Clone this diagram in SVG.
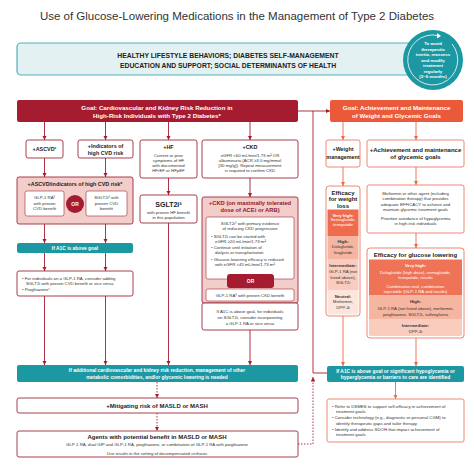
<svg xmlns="http://www.w3.org/2000/svg" width="474" height="465" viewBox="0 0 474 465">
<style>
text{font-family:"Liberation Sans",Arial,sans-serif;}
.ttl{font-size:11.5px;fill:#333;text-anchor:middle;}
.hb{font-size:6.8px;font-weight:bold;fill:#222;text-anchor:middle;}
.gw{font-size:6.2px;font-weight:bold;fill:#fff;text-anchor:middle;}
.bb{font-size:5.4px;font-weight:bold;fill:#222;text-anchor:middle;}
.bt{font-size:6px;font-weight:bold;fill:#222;text-anchor:middle;}
.sm{font-size:4.3px;fill:#333;text-anchor:middle;}
.sl{font-size:4.3px;fill:#333;}
.smw{font-size:4.3px;fill:#fff;text-anchor:middle;}
.sbw{font-size:4.4px;font-weight:bold;fill:#fff;text-anchor:middle;}
.sbd{font-size:4.4px;font-weight:bold;fill:#333;text-anchor:middle;}
.tw{font-size:4.9px;font-weight:bold;fill:#fff;text-anchor:middle;}
.wb{fill:#fff;stroke:#9e2a3a;stroke-width:0.9;}
.pk{fill:#f3cdca;stroke:#9e2a3a;stroke-width:0.9;}
.cb{fill:#fff;stroke:#ea7a60;stroke-width:0.9;}
.teal{fill:#1c98a3;}
.lr{stroke:#a51c30;stroke-width:0.9;fill:none;}
.lc{stroke:#ea6a4c;stroke-width:0.9;fill:none;}
.dt{stroke:#a51c30;stroke-width:0.9;fill:none;stroke-dasharray:1.5 1.5;}
</style>
<defs>
<marker id="ar" viewBox="0 0 6 6" refX="6" refY="3" markerWidth="4.5" markerHeight="4.5" markerUnits="userSpaceOnUse" orient="auto"><path d="M0,0 L6,3 L0,6 z" fill="#a51c30"/></marker>
<marker id="ac" viewBox="0 0 6 6" refX="6" refY="3" markerWidth="4.5" markerHeight="4.5" markerUnits="userSpaceOnUse" orient="auto"><path d="M0,0 L6,3 L0,6 z" fill="#ea6a4c"/></marker>
</defs>
<rect width="474" height="465" fill="#fff"/>
<text class="ttl" x="237" y="20">Use of Glucose-Lowering Medications in the Management of Type 2 Diabetes</text>

<g id="lifestyle">
<rect x="17" y="43" width="420" height="32" rx="4" fill="#e3f1f3" stroke="#4fb1ba" stroke-width="1.2"/>
<text class="hb" x="228" y="58">HEALTHY LIFESTYLE BEHAVIORS; DIABETES SELF-MANAGEMENT</text>
<text class="hb" x="228" y="67.5">EDUCATION AND SUPPORT; SOCIAL DETERMINANTS OF HEALTH</text>
</g>
<g id="reassess">
<circle cx="433" cy="60" r="30" fill="#1c98a3"/>
<path d="M452,44 A25,25 0 1 1 438,35.5" fill="none" stroke="#fff" stroke-width="0.8"/>
<path d="M437,33 L441,36 L437,38.5 z" fill="#fff"/>
<text class="sbw" x="433" y="45">To avoid</text>
<text class="sbw" x="433" y="50.5">therapeutic</text>
<text class="sbw" x="433" y="56">inertia, reassess</text>
<text class="sbw" x="433" y="61.5">and modify</text>
<text class="sbw" x="433" y="67">treatment</text>
<text class="sbw" x="433" y="72.5">regularly</text>
<text class="sbw" x="433" y="78">(3–6 months)</text>
</g>

<g id="goal-cv">
<rect x="17" y="100" width="281" height="22" rx="2" fill="#a51c30"/>
<text class="gw" x="157" y="109.5">Goal: Cardiovascular and Kidney Risk Reduction in</text>
<text class="gw" x="157" y="117.5">High-Risk Individuals with Type 2 Diabetes*</text>
</g>
<g id="goal-glyc">
<rect x="330" y="100" width="133" height="22" rx="2" fill="#ea5a3a"/>
<text class="gw" x="396.5" y="109.5">Goal: Achievement and Maintenance</text>
<text class="gw" x="396.5" y="117.5">of Weight and Glycemic Goals</text>
</g>

<g id="ascvd">
<rect class="wb" x="26" y="140" width="37" height="18" rx="2"/>
<text class="bb" x="44.5" y="151">+ASCVD²</text>
</g>
<g id="indicators">
<rect class="wb" x="78" y="140" width="55" height="18" rx="2"/>
<text class="bb" x="105.5" y="148">+Indicators of</text>
<text class="bb" x="105.5" y="154.5">high CVD risk</text>
</g>
<g id="hf">
<rect class="wb" x="140" y="140" width="57" height="38" rx="2"/>
<text class="bb" x="168.5" y="149">+HF</text>
<text class="sm" x="168.5" y="157">Current or prior</text>
<text class="sm" x="168.5" y="162">symptoms of HF</text>
<text class="sm" x="168.5" y="167">with documented</text>
<text class="sm" x="168.5" y="172">HFrEF or HFpEF</text>
</g>
<g id="ckd">
<rect class="wb" x="202" y="140" width="96" height="38" rx="2"/>
<text class="bb" x="250" y="149">+CKD</text>
<text class="sm" x="250" y="157">eGFR &lt;60 mL/min/1.73 m² OR</text>
<text class="sm" x="250" y="162">albuminuria (ACR ≥3.0 mg/mmol</text>
<text class="sm" x="250" y="167">[30 mg/g]). Repeat measurement</text>
<text class="sm" x="250" y="172">is required to confirm CKD</text>
</g>

<g id="ascvd-risk">
<rect class="pk" x="17" y="177" width="116" height="47" rx="2"/>
<text class="bb" x="75" y="185.5">+ASCVD/indicators of high CVD risk*</text>
<rect x="25" y="191" width="39" height="25" rx="2" fill="#fff" stroke="#9e2a3a" stroke-width="0.6"/>
<text class="sm" x="44.5" y="199">GLP-1 RA³</text>
<text class="sm" x="44.5" y="204.5">with proven</text>
<text class="sm" x="44.5" y="210">CVD benefit</text>
<rect x="86" y="191" width="41" height="25" rx="2" fill="#fff" stroke="#9e2a3a" stroke-width="0.6"/>
<text class="sm" x="106.5" y="199">SGLT2i³ with</text>
<text class="sm" x="106.5" y="204.5">proven CVD</text>
<text class="sm" x="106.5" y="210">benefit</text>
<circle cx="75" cy="204" r="9" fill="#a51c30"/>
<text class="tw" x="75" y="205.8">OR</text>
</g>
<g id="sglt2i-hf">
<rect class="wb" x="140" y="195" width="57" height="28" rx="2"/>
<text x="168.5" y="207" style="font-size:7px;font-weight:bold;fill:#222;text-anchor:middle">SGLT2i³</text>
<text class="sm" x="168.5" y="213.5">with proven HF benefit</text>
<text class="sm" x="168.5" y="218.5">in this population</text>
</g>
<g id="ckd-acei">
<rect class="pk" x="202" y="197" width="96" height="106" rx="2"/>
<text x="250" y="205" style="font-size:5.8px;font-weight:bold;fill:#8e1a2c;text-anchor:middle">+CKD (on maximally tolerated</text>
<text x="250" y="212" style="font-size:5.8px;font-weight:bold;fill:#8e1a2c;text-anchor:middle">dose of ACEi or ARB)</text>
<rect x="206" y="217" width="88" height="62" rx="2" fill="#fff" stroke="#9e2a3a" stroke-width="0.6"/>
<text class="sm" x="250" y="224.5">SGLT2i³ with primary evidence</text>
<text class="sm" x="250" y="229.5">of reducing CKD progression</text>
<text class="sl" x="211" y="237.5">•  SGLT2i can be started with</text>
<text class="sl" x="215" y="242.5">eGFR ≥20 mL/min/1.73 m²</text>
<text class="sl" x="211" y="249">•  Continue until initiation of</text>
<text class="sl" x="215" y="254">dialysis or transplantation</text>
<text class="sl" x="211" y="260.5">•  Glucose-lowering efficacy is reduced</text>
<text class="sl" x="215" y="265.5">with eGFR &lt;45 mL/min/1.73 m²</text>
<rect x="227" y="274" width="47" height="14" rx="3" fill="#a51c30"/>
<text class="tw" x="250.5" y="282.8">OR</text>
<rect x="206" y="289" width="88" height="12" rx="2" fill="#fff" stroke="#9e2a3a" stroke-width="0.6"/>
<text class="sm" x="250" y="296.5">GLP-1 RA³ with proven CKD benefit</text>
</g>
<g id="ckd-a1c">
<rect class="wb" x="202" y="303" width="96" height="27" rx="2"/>
<text class="sm" x="250" y="312.5">If A1C is above goal, for individuals</text>
<text class="sm" x="250" y="318.5">on SGLT2i, consider incorporating</text>
<text class="sm" x="250" y="324.5">a GLP-1 RA or vice versa</text>
</g>
<g id="a1c-left">
<rect class="teal" x="17" y="243" width="116" height="10" rx="2"/>
<text class="tw" x="75" y="249.8">If A1C is above goal</text>
</g>
<g id="glp1-sglt2">
<rect class="wb" x="17" y="271" width="116" height="25" rx="2"/>
<text class="sl" x="22" y="279.5">•  For individuals on a GLP-1 RA, consider adding</text>
<text class="sl" x="26" y="285">SGLT2i with proven CVD benefit or vice versa</text>
<text class="sl" x="22" y="290.5">•  Pioglitazone⁴</text>
</g>
<g id="additional">
<rect class="teal" x="17" y="365" width="281" height="17" rx="2"/>
<text class="tw" x="157" y="372">If additional cardiovascular and kidney risk reduction, management of other</text>
<text class="tw" x="157" y="378.5">metabolic comorbidities, and/or glycemic lowering is needed</text>
</g>
<g id="masld">
<rect class="wb" x="17" y="398" width="281" height="15" rx="2"/>
<text class="bt" x="157" y="407.8">+Mitigating risk of MASLD or MASH</text>
</g>
<g id="agents">
<rect class="wb" x="17" y="431" width="281" height="26" rx="2"/>
<text class="bt" x="157" y="439.2">Agents with potential benefit in MASLD or MASH</text>
<text class="sm" x="157" y="446">GLP-1 RA, dual GIP and GLP-1 RA, pioglitazone, or combination of GLP-1 RA with pioglitazone</text>
<text class="sm" x="157" y="454.5">Use insulin in the setting of decompensated cirrhosis</text>
</g>

<g id="weight">
<rect class="cb" x="326" y="140" width="34" height="27" rx="2"/>
<text class="bb" x="343" y="151">+Weight</text>
<text class="bb" x="343" y="158.5">management</text>
</g>
<g id="glycemic">
<rect class="cb" x="367" y="140" width="97" height="27" rx="2"/>
<text class="bt" x="415.5" y="151.5">+Achievement and maintenance</text>
<text class="bt" x="415.5" y="159">of glycemic goals</text>
</g>
<g id="weight-efficacy">
<rect class="cb" x="326" y="186" width="34" height="130" rx="3"/>
<text class="bt" x="343" y="194.5">Efficacy</text>
<text class="bt" x="343" y="201">for weight</text>
<text class="bt" x="343" y="207.5">loss</text>
<rect x="327.5" y="209.5" width="31" height="26.5" fill="#ee6c4d"/>
<text class="sbw" x="343" y="216.5">Very high:</text>
<text class="smw" x="343" y="221">Semaglutide,</text>
<text class="smw" x="343" y="225.5">tirzepatide</text>
<rect x="327.5" y="236" width="31" height="23" fill="#f6b5a1"/>
<text class="sbd" x="343" y="242.5">High:</text>
<text class="sm" x="343" y="248">Dulaglutide,</text>
<text class="sm" x="343" y="253.5">liraglutide</text>
<rect x="327.5" y="259" width="31" height="31" fill="#f9ccbe"/>
<text class="sbd" x="343" y="266.5">Intermediate:</text>
<text class="sm" x="343" y="273">GLP-1 RA (not</text>
<text class="sm" x="343" y="278.5">listed above),</text>
<text class="sm" x="343" y="284">SGLT2i</text>
<path d="M327.5,290 H358.5 V312.5 Q358.5,314.5 356.5,314.5 H329.5 Q327.5,314.5 327.5,312.5 Z" fill="#fce5dd"/>
<text class="sbd" x="343" y="297.5">Neutral:</text>
<text class="sm" x="343" y="303">Metformin,</text>
<text class="sm" x="343" y="308.5">DPP-4i</text>
</g>
<g id="metformin">
<rect class="cb" x="367" y="185" width="97" height="48" rx="2"/>
<text class="sm" x="415.5" y="194.8">Metformin or other agent (including</text>
<text class="sm" x="415.5" y="200.4">combination therapy) that provides</text>
<text class="sm" x="415.5" y="205.6">adequate EFFICACY to achieve and</text>
<text class="sm" x="415.5" y="211">maintain glycemic treatment goals</text>
<text class="sm" x="415.5" y="219.7">Prioritize avoidance of hypoglycemia</text>
<text class="sm" x="415.5" y="225.2">in high-risk individuals</text>
</g>
<g id="glucose-efficacy">
<rect class="cb" x="367" y="248" width="97" height="90" rx="3"/>
<text class="bt" x="415.5" y="257.2">Efficacy for glucose lowering</text>
<rect x="369" y="259.5" width="93" height="36" fill="#ef7356"/>
<text class="sbw" x="415.5" y="267">Very high:</text>
<text class="smw" x="415.5" y="274">Dulaglutide (high dose), semaglutide,</text>
<text class="smw" x="415.5" y="279">tirzepatide, insulin</text>
<text class="smw" x="415.5" y="287.5">Combination oral, combination</text>
<text class="smw" x="415.5" y="293">injectable (GLP-1 RA and insulin)</text>
<rect x="369" y="295.5" width="93" height="23.5" fill="#f6b5a1"/>
<text class="sbd" x="415.5" y="303">High:</text>
<text class="sm" x="415.5" y="309.5">GLP-1 RA (not listed above), metformin,</text>
<text class="sm" x="415.5" y="315.5">pioglitazone, SGLT2i, sulfonylurea</text>
<path d="M369,319 H462 V334 Q462,336 460,336 H371 Q369,336 369,334 Z" fill="#f9ccbe"/>
<text class="sbd" x="415.5" y="326.5">Intermediate:</text>
<text class="sm" x="415.5" y="333">DPP-4i</text>
</g>
<g id="a1c-right">
<rect class="teal" x="327" y="366" width="137" height="16" rx="2"/>
<text class="tw" x="395.5" y="372.5">If A1C is above goal or significant hypoglycemia or</text>
<text class="tw" x="395.5" y="378.8">hyperglycemia or barriers to care are identified</text>
</g>
<g id="dsmes">
<rect class="cb" x="327" y="399" width="137" height="43" rx="2"/>
<text class="sl" x="332" y="408">•  Refer to DSMES to support self-efficacy in achievement of</text>
<text class="sl" x="336" y="413">treatment goals</text>
<text class="sl" x="332" y="419">•  Consider technology (e.g., diagnostic or personal CGM) to</text>
<text class="sl" x="336" y="424.5">identify therapeutic gaps and tailor therapy</text>
<text class="sl" x="332" y="430.5">•  Identify and address SDOH that impact achievement of</text>
<text class="sl" x="336" y="436">treatment goals</text>
</g>

<g id="connectors">
<line class="lr" x1="298" y1="111" x2="330" y2="111" marker-end="url(#ar)"/>
<line class="lr" x1="313" y1="111" x2="313" y2="373"/>
<line class="lr" x1="313" y1="373" x2="327" y2="373"/>
<polyline class="dt" points="298,444 313,444 313,377" marker-end="url(#ar)"/>
<line class="lr" x1="44.5" y1="122" x2="44.5" y2="140" marker-end="url(#ar)"/>
<line class="lr" x1="105.5" y1="122" x2="105.5" y2="140" marker-end="url(#ar)"/>
<line class="lr" x1="168.5" y1="122" x2="168.5" y2="140" marker-end="url(#ar)"/>
<line class="lr" x1="250" y1="122" x2="250" y2="140" marker-end="url(#ar)"/>
<line class="lr" x1="44.5" y1="158" x2="44.5" y2="177" marker-end="url(#ar)"/>
<line class="lr" x1="105.5" y1="158" x2="105.5" y2="177" marker-end="url(#ar)"/>
<line class="lr" x1="168.5" y1="178" x2="168.5" y2="195" marker-end="url(#ar)"/>
<line class="lr" x1="250" y1="178" x2="250" y2="197" marker-end="url(#ar)"/>
<line class="lr" x1="44.5" y1="224" x2="44.5" y2="243" marker-end="url(#ar)"/>
<line class="lr" x1="105.5" y1="224" x2="105.5" y2="243" marker-end="url(#ar)"/>
<line class="lr" x1="44.5" y1="253" x2="44.5" y2="271" marker-end="url(#ar)"/>
<line class="lr" x1="105.5" y1="253" x2="105.5" y2="271" marker-end="url(#ar)"/>
<line class="lr" x1="44.5" y1="296" x2="44.5" y2="365" marker-end="url(#ar)"/>
<line class="lr" x1="105.5" y1="296" x2="105.5" y2="365" marker-end="url(#ar)"/>
<line class="lr" x1="168.5" y1="223" x2="168.5" y2="365" marker-end="url(#ar)"/>
<line class="lr" x1="250" y1="330" x2="250" y2="365" marker-end="url(#ar)"/>
<line class="dt" x1="157" y1="382" x2="157" y2="398" marker-end="url(#ar)"/>
<line class="dt" x1="157" y1="413" x2="157" y2="431" marker-end="url(#ar)"/>
<line class="lc" x1="343" y1="122" x2="343" y2="140" marker-end="url(#ac)"/>
<line class="lc" x1="416" y1="122" x2="416" y2="140" marker-end="url(#ac)"/>
<line class="lc" x1="343" y1="167" x2="343" y2="186" marker-end="url(#ac)"/>
<line class="lc" x1="416" y1="167" x2="416" y2="185" marker-end="url(#ac)"/>
<line class="lc" x1="416" y1="233" x2="416" y2="248" marker-end="url(#ac)"/>
<line class="lc" x1="343" y1="316" x2="343" y2="366" marker-end="url(#ac)"/>
<line class="lc" x1="416" y1="338" x2="416" y2="366" marker-end="url(#ac)"/>
<line class="lc" x1="395.5" y1="382" x2="395.5" y2="399" marker-end="url(#ac)"/>
</g>
</svg>
